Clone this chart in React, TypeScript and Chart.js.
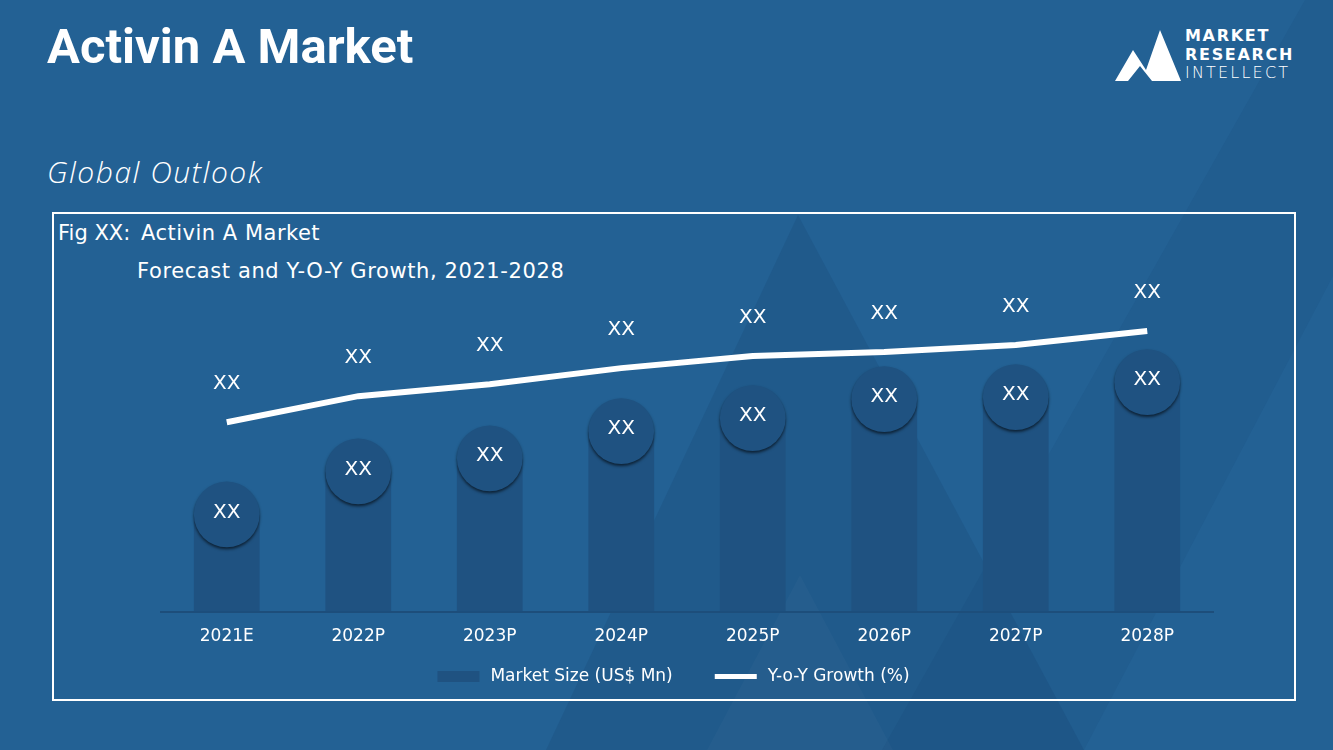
import React, { useEffect, useRef } from "react";
import { Chart, registerables } from "chart.js";

Chart.register(...registerables);

// ---- data ----
const categories = ["2021E", "2022P", "2023P", "2024P", "2025P", "2026P", "2027P", "2028P"];
const marketSize = [97, 140, 153, 180, 193, 212, 214, 229];
const yoyGrowth = [189, 215, 227, 243, 255, 259, 266, 280];
const barLabels = ["XX", "XX", "XX", "XX", "XX", "XX", "XX", "XX"];
const lineLabels = ["XX", "XX", "XX", "XX", "XX", "XX", "XX", "XX"];
const seriesNames = ["Market Size (US$ Mn)", "Y-o-Y Growth (%)"];

const BG = "#236194";
const BAR = "#1f5281";
const FONT = "'DejaVu Sans', sans-serif";

const decorPlugin = {
  id: "decor",
  afterDatasetsDraw(chart: any) {
    const ctx = chart.ctx;
    const barMeta = chart.getDatasetMeta(0);
    const lineMeta = chart.getDatasetMeta(1);
    barMeta.data.forEach((el: any, i: number) => {
      const { x, y, width } = el.getProps(["x", "y", "width"], true);
      const r = width / 2;
      ctx.save();
      ctx.shadowColor = "rgba(0,0,0,0.6)";
      ctx.shadowBlur = 3;
      ctx.shadowOffsetY = 2;
      ctx.beginPath();
      ctx.arc(x, y, r, 0, Math.PI * 2);
      ctx.fillStyle = BAR;
      ctx.fill();
      ctx.restore();
      ctx.save();
      ctx.fillStyle = "#ffffff";
      ctx.font = `20px ${FONT}`;
      ctx.textAlign = "center";
      ctx.textBaseline = "middle";
      ctx.fillText(barLabels[i], x, y - 2);
      ctx.restore();
    });
    lineMeta.data.forEach((pt: any, i: number) => {
      ctx.save();
      ctx.fillStyle = "#ffffff";
      ctx.font = `20px ${FONT}`;
      ctx.textAlign = "center";
      ctx.textBaseline = "middle";
      ctx.fillText(lineLabels[i], pt.x, pt.y - 38);
      ctx.restore();
    });
  },
  afterDraw(chart: any) {
    const ctx = chart.ctx;
    const ds = chart.data.datasets;
    ctx.save();
    ctx.font = `17px ${FONT}`;
    const boxW = 42;
    const gapBox = 11;
    const gapItem = 42;
    const t1 = ctx.measureText(ds[0].label).width;
    const t2 = ctx.measureText(ds[1].label).width;
    const total = boxW + gapBox + t1 + gapItem + boxW + gapBox + t2;
    let x = chart.width / 2 - total / 2;
    const cy = 463.5;
    ctx.fillStyle = ds[0].backgroundColor;
    ctx.fillRect(x, cy - 5.5, boxW, 11);
    x += boxW + gapBox;
    ctx.fillStyle = "#ffffff";
    ctx.textBaseline = "middle";
    ctx.textAlign = "left";
    ctx.fillText(ds[0].label, x, cy);
    x += t1 + gapItem;
    ctx.fillStyle = ds[1].borderColor;
    ctx.fillRect(x, cy - 2.5, boxW, 5);
    x += boxW + gapBox;
    ctx.fillStyle = "#ffffff";
    ctx.fillText(ds[1].label, x, cy);
    ctx.restore();
  },
};

function ChartCanvas() {
  const ref = useRef<HTMLCanvasElement | null>(null);
  useEffect(() => {
    if (!ref.current) return;
    const chart = new Chart(ref.current, {
      type: "bar",
      data: {
        labels: categories,
        datasets: [
          {
            type: "bar",
            label: seriesNames[0],
            data: marketSize,
            backgroundColor: BAR,
            borderWidth: 0,
            barPercentage: 0.5,
            categoryPercentage: 1,
            order: 2,
          },
          {
            type: "line",
            label: seriesNames[1],
            data: yoyGrowth,
            borderColor: "#ffffff",
            backgroundColor: "#ffffff",
            borderWidth: 6,
            pointRadius: 0,
            tension: 0,
            borderCapStyle: "butt",
            fill: false,
            order: 1,
          },
        ] as any,
      },
      options: {
        animation: false,
        responsive: false,
        maintainAspectRatio: false,
        layout: { padding: { left: 109, right: 82, top: 98, bottom: 38 } },
        plugins: {
          legend: { display: false },
          tooltip: { enabled: false },
          title: { display: false },
        },
        scales: {
          x: {
            grid: { display: false, drawTicks: false },
            border: { display: true, color: "#1d4e7b", width: 2 },
            ticks: {
              color: "#ffffff",
              font: { family: "DejaVu Sans", size: 17 },
              padding: 15,
            },
          },
          y: {
            display: false,
            min: 0,
            max: 300,
          },
        },
      } as any,
      plugins: [decorPlugin],
    });
    return () => chart.destroy();
  }, []);
  return (
    <canvas
      ref={ref}
      width={1243}
      height={487}
      style={{ position: "absolute", left: 52, top: 213, width: 1243, height: 487 }}
    />
  );
}

export default function App() {
  return (
    <div
      style={{
        position: "fixed",
        left: 0,
        top: 0,
        width: 1333,
        height: 750,
        background: BG,
        overflow: "hidden",
        color: "#ffffff",
      }}
    >
      <svg width={1333} height={750} style={{ position: "absolute", left: 0, top: 0 }}>
        <polygon points="798,215 546,750 1084,750" fill="rgba(12,45,85,0.13)" />
        <polygon points="800,575 707,750 893,750" fill="rgba(255,255,255,0.025)" />
        <polygon points="1305,0 1478,0 1084,750 882,750" fill="rgba(12,45,85,0.07)" />
        <polygon
          points="1115,81 1133,50 1146,70 1160,30 1181,81 1152,81 1140,66 1128,81"
          fill="#ffffff"
        />
      </svg>
      <div
        style={{
          position: "absolute",
          left: 47,
          top: 22,
          fontFamily: "Roboto",
          fontWeight: 700,
          fontSize: 49,
          lineHeight: "49px",
          letterSpacing: 0,
          whiteSpace: "nowrap",
        }}
      >
        Activin A Market
      </div>
      <div
        style={{
          position: "absolute",
          left: 1185,
          top: 27,
          fontFamily: "'DejaVu Sans', sans-serif",
          fontSize: 16,
          lineHeight: "18.5px",
          letterSpacing: 1.7,
          whiteSpace: "nowrap",
        }}
      >
        <div style={{ fontWeight: 700 }}>MARKET</div>
        <div style={{ fontWeight: 700 }}>RESEARCH</div>
        <div style={{ fontWeight: 300, letterSpacing: 2.2 }}>INTELLECT</div>
      </div>
      <div
        style={{
          position: "absolute",
          left: 47,
          top: 157,
          fontFamily: "'Open Sans'",
          fontWeight: 300,
          fontStyle: "italic",
          fontSize: 30,
          lineHeight: "30px",
          letterSpacing: 1.5,
          whiteSpace: "nowrap",
        }}
      >
        Global Outlook
      </div>
      <div
        style={{
          position: "absolute",
          left: 52,
          top: 212,
          width: 1244,
          height: 489,
          border: "2px solid #ffffff",
          boxSizing: "border-box",
        }}
      />
      <div
        style={{
          position: "absolute",
          left: 58,
          top: 223,
          fontFamily: "'DejaVu Sans', sans-serif",
          fontSize: 21,
          lineHeight: "21px",
          letterSpacing: 0,
          whiteSpace: "nowrap",
        }}
      >
        Fig XX:
      </div>
      <div
        style={{
          position: "absolute",
          left: 141,
          top: 223,
          fontFamily: "'DejaVu Sans', sans-serif",
          fontSize: 21,
          lineHeight: "21px",
          letterSpacing: 0.5,
          whiteSpace: "nowrap",
        }}
      >
        Activin A Market
      </div>
      <div
        style={{
          position: "absolute",
          left: 137,
          top: 261,
          fontFamily: "'DejaVu Sans', sans-serif",
          fontSize: 21,
          lineHeight: "21px",
          letterSpacing: 0.6,
          whiteSpace: "nowrap",
        }}
      >
        Forecast and Y-O-Y Growth, 2021-2028
      </div>
      <ChartCanvas />
    </div>
  );
}
